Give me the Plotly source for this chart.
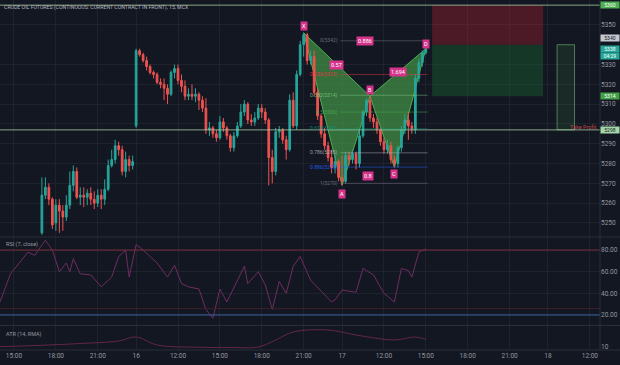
import plotly.graph_objects as go

# ---------------- data ----------------
title_text = "CRUDE OIL FUTURES (CONTINUOUS: CURRENT CONTRACT IN FRONT), 15, MCX"

# 15-minute bars, x = bar index (session gaps removed, like TradingView)
bar_index = list(range(8, 119))
opens = [5245, 5264, 5268, 5262, 5250, 5259, 5256, 5253, 5259, 5269, 5276, 5263, 5264, 5263, 5265, 5262, 5260, 5264,
         5262, 5267, 5279, 5282, 5289, 5287, 5276, 5282, 5279,
         5299, 5337, 5335, 5332, 5329, 5326, 5325, 5321, 5320, 5318, 5315, 5326, 5328, 5322, 5319, 5314, 5315, 5314,
         5315, 5312, 5308, 5297, 5298, 5295, 5293, 5301, 5298, 5294, 5288, 5294, 5299, 5306, 5310, 5302, 5301, 5303,
         5308, 5306, 5302, 5283, 5276, 5296, 5297, 5292, 5287, 5312, 5299, 5325, 5340, 5345, 5332, 5334, 5316, 5304,
         5295, 5289, 5283, 5278, 5281, 5273, 5271, 5284, 5282, 5285, 5280, 5294, 5306, 5312, 5303, 5301, 5297, 5291,
         5287, 5289, 5282, 5280, 5288, 5297, 5302, 5299, 5297, 5323, 5331, 5336]
highs = [5273, 5273, 5270, 5263, 5262, 5262, 5259, 5264, 5276, 5279, 5278, 5268, 5268, 5267, 5268, 5266, 5267, 5267,
         5272, 5282, 5287, 5292, 5291, 5289, 5286, 5284, 5284,
         5338, 5338, 5336, 5334, 5330, 5327, 5326, 5323, 5323, 5320, 5327, 5330, 5330, 5325, 5322, 5318, 5320, 5318,
         5316, 5314, 5313, 5301, 5299, 5297, 5304, 5303, 5299, 5295, 5296, 5301, 5310, 5312, 5311, 5305, 5306, 5310,
         5310, 5308, 5303, 5287, 5298, 5299, 5298, 5294, 5315, 5316, 5327, 5342, 5346, 5346, 5337, 5337, 5318, 5305,
         5298, 5291, 5287, 5284, 5282, 5284, 5286, 5286, 5287, 5286, 5297, 5307, 5313, 5314, 5305, 5303, 5298, 5293,
         5292, 5291, 5284, 5289, 5299, 5305, 5306, 5301, 5325, 5333, 5337, 5340]
lows = [5244, 5262, 5259, 5247, 5246, 5245, 5246, 5251, 5257, 5266, 5262, 5259, 5258, 5259, 5259, 5257, 5258, 5257,
        5259, 5266, 5278, 5280, 5284, 5274, 5273, 5276, 5277,
        5298, 5334, 5331, 5327, 5325, 5323, 5320, 5318, 5312, 5310, 5314, 5323, 5320, 5316, 5312, 5312, 5312, 5311,
        5307, 5306, 5295, 5294, 5293, 5291, 5292, 5296, 5292, 5286, 5286, 5293, 5298, 5304, 5300, 5299, 5299, 5302,
        5303, 5300, 5269, 5270, 5274, 5293, 5290, 5282, 5286, 5298, 5297, 5324, 5334, 5330, 5330, 5314, 5302, 5293,
        5287, 5281, 5275, 5275, 5271, 5269, 5270, 5279, 5280, 5277, 5278, 5293, 5304, 5301, 5298, 5295, 5289, 5285,
        5285, 5280, 5278, 5278, 5286, 5295, 5292, 5295, 5295, 5321, 5329, 5335]
closes = [5264, 5268, 5262, 5249, 5259, 5256, 5253, 5259, 5269, 5276, 5263, 5264, 5263, 5265, 5262, 5260, 5264, 5262,
          5267, 5279, 5282, 5289, 5287, 5276, 5282, 5279, 5281,
          5337, 5335, 5332, 5329, 5326, 5325, 5321, 5320, 5318, 5315, 5326, 5328, 5322, 5319, 5314, 5315, 5314, 5315,
          5312, 5308, 5297, 5298, 5295, 5293, 5301, 5298, 5294, 5288, 5294, 5299, 5306, 5310, 5302, 5301, 5303, 5308,
          5306, 5302, 5283, 5276, 5296, 5297, 5292, 5287, 5312, 5299, 5325, 5340, 5345, 5332, 5334, 5316, 5304, 5295,
          5289, 5283, 5278, 5281, 5273, 5271, 5284, 5282, 5285, 5280, 5294, 5306, 5312, 5303, 5301, 5297, 5291, 5287,
          5289, 5282, 5280, 5288, 5297, 5302, 5299, 5297, 5323, 5331, 5336, 5338]

# time-axis ticks (bar index -> label)
tick_idx = [0, 12, 24, 35, 47, 59, 71, 83, 94, 106, 118, 130, 142, 153, 165]
tick_text = ["15:00", "18:00", "21:00", "16", "12:00", "15:00", "18:00", "21:00", "17",
             "12:00", "15:00", "18:00", "21:00", "18", "12:00"]

# price-axis ticks (5340 is shown by the entry-price label instead)
price_ticks = [5250, 5260, 5270, 5280, 5290, 5300, 5310, 5320, 5330, 5350]

# RSI (7, close) read at selected bars
rsi_idx = [-4, -1, 4, 6, 7, 9, 11, 13, 15, 16, 17, 19, 22, 25, 28, 30, 32, 33, 35, 37, 39, 41, 44, 46, 48, 50, 53,
           55, 57, 59, 61, 64, 66, 67, 70, 72, 74, 76, 78, 80, 82, 85, 88, 91, 92, 94, 98, 100, 101, 103, 106, 109,
           111, 113, 114, 116, 118]
rsi_val = [32, 58, 78, 75, 80, 89, 80, 60, 68, 60, 72, 58, 57, 46, 55, 74, 80, 55, 85, 80, 74, 68, 55, 66, 49, 46, 44,
           25, 17, 44, 32, 52, 65, 49, 60, 48, 25, 51, 40, 65, 74, 52, 42, 32, 34, 43, 41, 63, 61, 57, 40, 32,
           63, 61, 55, 78, 81]
rsi_ticks = [20, 40, 60, 80]

# ATR (14, RMA) read at selected bars
atr_idx = [-4, 10, 19, 30, 35, 41, 53, 62, 70, 75, 80, 90, 98, 109, 115, 118]
atr_val = [10.05, 10.4, 10.7, 11.2, 12.0, 10.4, 9.95, 9.9, 10.0, 11.4, 13.0, 13.4, 12.4, 11.4, 12.0, 11.5]

# XABCD pattern
pat_names = ["X", "A", "B", "C", "D"]
pat_idx = [83, 94, 102, 109, 118]
pat_price = [5346, 5269, 5314, 5278, 5338]
ratio_text = ["0.57", "0.8", "1.694", "0.886"]      # on XB, AC, BD, XD

# Fib retracement levels
fib_text = ["0(5342)", "0.236(5325)", "0.382(5314)", "0.5(5306)", "0.618(5298)", "0.786(5285)", "0.886(5278)", "1(5270)"]
fib_price = [5342, 5325, 5314.5, 5306, 5297.5, 5285.4, 5278.2, 5270]
fib_color = ["#787b86", "#f23645", "#81c784", "#4caf50", "#089981", "#b2b5be", "#2962ff", "#787b86"]
fib_start, fib_end = 93.5, 118.5

# short position tool
pos_entry, pos_stop, pos_target = 5340, 5360, 5314
pos_x0, pos_x1 = 119.8, 151.6
tp_price = 5297
top_line_price = 5360
last_price = 5338

# ---------------- styling ----------------
BG = "#131722"
GRID = "#1e222d"
UP = "#26a69a"
DN = "#ef5350"
TXT = "#9598a1"
FONT = "Roboto"
X0, X1 = -4.0, 167.9
DX = 600 / 620

fig = go.Figure()
fig.add_trace(go.Candlestick(
    x=bar_index, open=opens, high=highs, low=lows, close=closes,
    increasing=dict(line=dict(color=UP, width=1), fillcolor=UP),
    decreasing=dict(line=dict(color=DN, width=1), fillcolor=DN),
    whiskerwidth=0, xaxis="x", yaxis="y", showlegend=False, hoverinfo="skip"))
fig.add_trace(go.Scatter(x=rsi_idx, y=rsi_val, mode="lines", line=dict(color="#6f2c62", width=1),
                         xaxis="x2", yaxis="y2", showlegend=False, hoverinfo="skip"))
fig.add_trace(go.Scatter(x=atr_idx, y=atr_val, mode="lines", line=dict(color="#62264a", width=1, shape="spline"),
                         xaxis="x3", yaxis="y3", showlegend=False, hoverinfo="skip"))

xcommon = dict(range=[X0, X1], tickvals=tick_idx, ticktext=tick_text, showgrid=True, gridcolor=GRID,
               zeroline=False, showline=False, ticks="", fixedrange=True)
tickfont = dict(family=FONT, size=6.5, color=TXT)

shapes = []
annotations = []

# horizontal lines in price pane
for p in [top_line_price, tp_price]:
    shapes.append(dict(type="line", xref="x", yref="y", x0=X0, x1=X1, y0=p, y1=p,
                       line=dict(color="rgba(178,214,170,0.75)", width=1)))

# position tool boxes
shapes.append(dict(type="rect", xref="x", yref="y", x0=pos_x0, x1=pos_x1, y0=pos_entry, y1=pos_stop,
                   fillcolor="rgba(200,30,50,0.32)", line=dict(width=0), layer="between"))
shapes.append(dict(type="rect", xref="x", yref="y", x0=pos_x0, x1=pos_x1, y0=pos_target, y1=pos_entry,
                   fillcolor="rgba(25,130,55,0.30)", line=dict(width=0), layer="between"))
shapes.append(dict(type="rect", xref="x", yref="y", x0=155.6, x1=160.6, y0=tp_price, y1=pos_entry,
                   fillcolor="rgba(76,175,80,0.13)", line=dict(color="rgba(129,199,132,0.55)", width=1),
                   layer="between"))

# XABCD triangles
def tri(a, b, c):
    pts = [(pat_idx[a], pat_price[a]), (pat_idx[b], pat_price[b]), (pat_idx[c], pat_price[c])]
    return "M {} {} L {} {} L {} {} Z".format(*[v for p in pts for v in p])

for a, b, c in [(0, 1, 2), (2, 3, 4)]:
    shapes.append(dict(type="path", xref="x", yref="y", path=tri(a, b, c),
                       fillcolor="rgba(76,175,80,0.58)", line=dict(color="#4caf50", width=1), layer="between"))

# fib levels
for t, p, col in zip(fib_text, fib_price, fib_color):
    shapes.append(dict(type="line", xref="x", yref="y", x0=fib_start, x1=fib_end, y0=p, y1=p,
                       line=dict(color=col, width=0.8), opacity=0.6))
    annotations.append(dict(x=fib_start, y=p, xref="x", yref="y", text=t, showarrow=False, xanchor="right",
                            yanchor="middle", font=dict(family=FONT, size=5, color=col), opacity=0.85))

# pattern labels
PINK = "#d6338a"
shifts = [7, -9, 6, -7, 5]
for n, i, p, s in zip(pat_names, pat_idx, pat_price, shifts):
    annotations.append(dict(x=i, y=p, xref="x", yref="y", text=n, showarrow=False, yshift=s,
                            bgcolor=PINK, borderpad=1, font=dict(family=FONT, size=5.5, color="white")))
for (a, b), t in zip([(0, 2), (1, 3), (2, 4), (0, 4)], ratio_text):
    annotations.append(dict(x=(pat_idx[a] + pat_idx[b]) / 2, y=(pat_price[a] + pat_price[b]) / 2,
                            xref="x", yref="y", text=t, showarrow=False, bgcolor=PINK, borderpad=1,
                            font=dict(family=FONT, size=5.5, color="white")))

# take profit text
annotations.append(dict(x=167.2, y=tp_price + 1.5, xref="x", yref="y", text="Take Profit", showarrow=False,
                        xanchor="right", font=dict(family=FONT, size=5.5, color="#c0434d")))

# price-axis labels
def axlabel(p, text, bg, fg, shift=0):
    annotations.append(dict(x=DX, y=p, xref="paper", yref="y", text=text, showarrow=False, xanchor="left",
                            yshift=shift, bgcolor=bg, borderpad=0, width=18, height=6,
                            font=dict(family=FONT, size=5, color=fg)))

axlabel(top_line_price, str(top_line_price), "#4caf50", "white")
axlabel(pos_entry, str(pos_entry), "#c4c7cf", "#131722", 7)
axlabel(last_price, str(last_price), UP, "white", 0)
axlabel(last_price, "04:29", UP, "white", -7)
axlabel(pos_target, str(pos_target), "#43a047", "white")
axlabel(tp_price, str(tp_price + 1), "#a5d6a7", "#131722")

# RSI bands
for v, col in [(80, "#7a2d3a"), (26, "#3a1e2a"), (20, "#3b62a0")]:
    shapes.append(dict(type="line", xref="x2", yref="y2", x0=X0, x1=X1, y0=v, y1=v,
                       line=dict(color=col, width=1)))

# pane separators & axis line
for yy in [0.3229, 0.0700]:
    shapes.append(dict(type="line", xref="paper", yref="paper", x0=0, x1=1, y0=yy, y1=yy,
                       line=dict(color="#2a2e39", width=1)))
shapes.append(dict(type="line", xref="paper", yref="paper", x0=DX, x1=DX, y0=0, y1=1,
                   line=dict(color="#2a2e39", width=1)))
shapes.append(dict(type="line", xref="paper", yref="paper", x0=0, x1=1, y0=0, y1=0,
                   line=dict(color="#2a2e39", width=1)))

# titles
annotations.append(dict(x=0.004, y=1, xref="paper", yref="paper", text=title_text, showarrow=False,
                        xanchor="left", yanchor="top", yshift=-2, font=dict(family=FONT, size=5.2, color="#b2b5be")))
annotations.append(dict(x=0.006, y=0.32, xref="paper", yref="paper", text="RSI (7, close)", showarrow=False,
                        xanchor="left", yanchor="top", yshift=-1, font=dict(family=FONT, size=5.5, color=TXT)))
annotations.append(dict(x=0.006, y=0.068, xref="paper", yref="paper", text="ATR (14, RMA)", showarrow=False,
                        xanchor="left", yanchor="top", yshift=-3, font=dict(family=FONT, size=5.5, color=TXT)))

fig.update_layout(
    width=620, height=365, margin=dict(l=0, r=0, t=0, b=15),
    paper_bgcolor=BG, plot_bgcolor=BG, showlegend=False,
    xaxis=dict(domain=[0, DX], anchor="y", showticklabels=False, rangeslider=dict(visible=False), **xcommon),
    xaxis2=dict(domain=[0, DX], anchor="y2", showticklabels=False, **xcommon),
    xaxis3=dict(domain=[0, DX], anchor="y3", showticklabels=True, tickfont=tickfont, **xcommon),
    yaxis=dict(domain=[0.3229, 1], anchor="x", side="right", range=[5242.9, 5362.6], tickvals=price_ticks,
               ticktext=[str(v) for v in price_ticks], tickfont=tickfont, showgrid=True, gridcolor=GRID,
               zeroline=False, ticks="", fixedrange=True),
    yaxis2=dict(domain=[0.0714, 0.32], anchor="x2", side="right", range=[10.75, 91.1], tickvals=rsi_ticks,
                ticktext=["%.2f" % v for v in rsi_ticks], tickfont=tickfont, showgrid=True, gridcolor=GRID,
                zeroline=False, ticks="", fixedrange=True),
    yaxis3=dict(domain=[0, 0.0686], anchor="x3", side="right", range=[9.4, 14.2], tickvals=[10],
                ticktext=["10"], tickfont=tickfont, showgrid=False, zeroline=False, ticks="", fixedrange=True),
    shapes=shapes, annotations=annotations,
)

fig.write_html("out.html", config={"displayModeBar": False},
               post_script="document.body.style.margin='0';document.body.style.background='#131722';")
